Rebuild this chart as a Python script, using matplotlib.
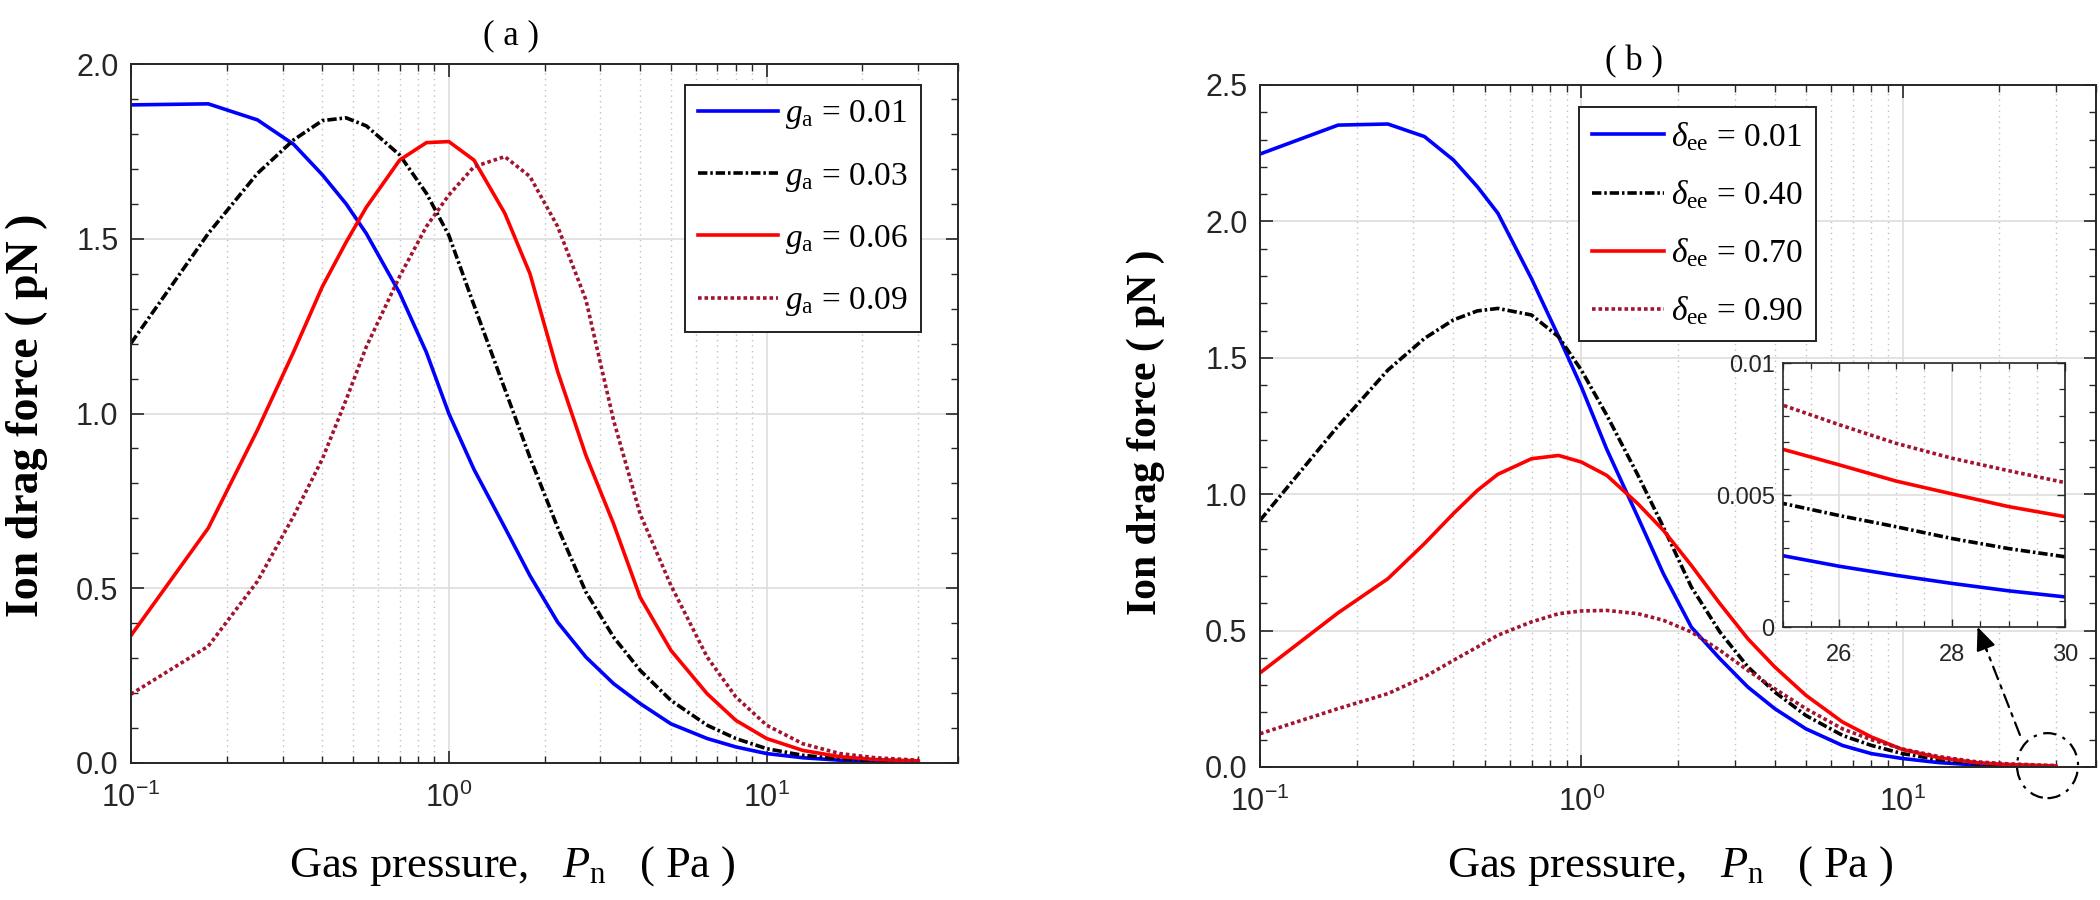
import numpy as np
import matplotlib.pyplot as plt
from matplotlib.patches import Ellipse
from matplotlib.ticker import MultipleLocator, LogLocator, NullFormatter, FormatStrFormatter

# fonts: serif text, sans ticks (MATLAB look)
plt.rcParams['mathtext.fontset'] = 'custom'
plt.rcParams['mathtext.rm'] = 'Liberation Serif'
plt.rcParams['mathtext.it'] = 'Liberation Serif:italic'
plt.rcParams['mathtext.sf'] = 'Liberation Sans'
plt.rcParams['font.family'] = ['Liberation Serif', 'DejaVu Serif']

# panel (a): ion drag force vs gas pressure for several g_a
pressure_a = [0.1, 0.175, 0.25, 0.325, 0.4, 0.475, 0.55, 0.7, 0.85, 1.0, 1.2, 1.5, 1.8,
              2.2, 2.7, 3.3, 4, 5, 6.5, 8, 10, 13, 17, 22, 30]
ga_values = ['0.01', '0.03', '0.06', '0.09']
force_ga_001 = [1.883, 1.886, 1.840, 1.770, 1.683, 1.600, 1.515, 1.345, 1.175, 1.00, 0.84,
                0.674, 0.536, 0.403, 0.303, 0.227, 0.17, 0.112, 0.07, 0.046, 0.027, 0.015,
                0.008, 0.005, 0.003]
force_ga_003 = [1.201, 1.515, 1.687, 1.783, 1.838, 1.846, 1.823, 1.74, 1.63, 1.51, 1.31,
                1.07, 0.874, 0.674, 0.489, 0.36, 0.265, 0.179, 0.108, 0.07, 0.041, 0.022,
                0.012, 0.007, 0.004]
force_ga_006 = [0.365, 0.672, 0.953, 1.177, 1.363, 1.49, 1.59, 1.725, 1.775, 1.778, 1.725,
                1.573, 1.40, 1.12, 0.88, 0.684, 0.474, 0.322, 0.198, 0.122, 0.07, 0.036,
                0.018, 0.01, 0.006]
force_ga_009 = [0.197, 0.334, 0.52, 0.707, 0.87, 1.039, 1.191, 1.392, 1.535, 1.625, 1.706,
                1.735, 1.678, 1.535, 1.325, 0.98, 0.712, 0.508, 0.303, 0.189, 0.108, 0.055,
                0.027, 0.015, 0.008]

# panel (b): ion drag force vs gas pressure for several delta_ee
pressure_b = [0.1, 0.175, 0.25, 0.325, 0.4, 0.475, 0.55, 0.7, 0.85, 1.0, 1.2, 1.5, 1.8,
              2.2, 2.7, 3.3, 4, 5, 6.5, 8, 10, 13, 17, 21, 25, 26, 27, 28, 29, 30]
dee_values = ['0.01', '0.40', '0.70', '0.90']
force_dee_001 = [2.247, 2.353, 2.357, 2.311, 2.225, 2.127, 2.03, 1.79, 1.578, 1.394, 1.165,
                 0.916, 0.709, 0.513, 0.397, 0.293, 0.214, 0.14, 0.079, 0.049, 0.031, 0.016,
                 0.0075, 0.0042, 0.0027, 0.0023, 0.00196, 0.00165, 0.00137, 0.00114]
force_dee_040 = [0.904, 1.25, 1.455, 1.571, 1.639, 1.672, 1.681, 1.657, 1.577, 1.455, 1.29,
                 1.07, 0.88, 0.66, 0.495, 0.367, 0.275, 0.189, 0.116, 0.079, 0.049, 0.027,
                 0.012, 0.0068, 0.00468, 0.00422, 0.0038, 0.00335, 0.00297, 0.00266]
force_dee_070 = [0.345, 0.565, 0.69, 0.819, 0.929, 1.014, 1.073, 1.13, 1.142, 1.118, 1.069,
                 0.965, 0.868, 0.739, 0.599, 0.47, 0.367, 0.263, 0.165, 0.11, 0.064, 0.034,
                 0.016, 0.0095, 0.00673, 0.00614, 0.00553, 0.00504, 0.00456, 0.00418]
force_dee_090 = [0.122, 0.214, 0.269, 0.33, 0.391, 0.44, 0.483, 0.532, 0.562, 0.572, 0.574,
                 0.562, 0.538, 0.495, 0.428, 0.354, 0.287, 0.214, 0.14, 0.10, 0.066, 0.038,
                 0.019, 0.012, 0.0084, 0.00766, 0.00696, 0.00639, 0.00592, 0.00547]

colors = ['#0000FF', '#000000', '#FF0000', '#A2142F']
styles = ['-', (0, (2.6, 0.8, 0.7, 0.8)), '-', (0, (1.0, 0.8))]
LW = 2.6
DARK = '#262626'


def style_axes(ax, ymax):
    # log x axis, linear y axis, MATLAB-like ticks and grid
    ax.set_xscale('log')
    ax.set_xlim(0.1, 40)
    ax.set_ylim(0, ymax)
    ax.set_xticks([0.1, 1, 10])
    ax.set_xticklabels([r'$\mathsf{10^{-1}}$', r'$\mathsf{10^{0}}$', r'$\mathsf{10^{1}}$'])
    ax.xaxis.set_minor_locator(LogLocator(base=10, subs=np.arange(2, 10)))
    ax.xaxis.set_minor_formatter(NullFormatter())
    ax.yaxis.set_major_locator(MultipleLocator(0.5))
    ax.yaxis.set_minor_locator(MultipleLocator(0.1))
    ax.yaxis.set_major_formatter(FormatStrFormatter('%.1f'))
    ax.tick_params(which='both', direction='in', top=True, right=True, colors=DARK,
                   labelsize=22, labelfontfamily='Liberation Sans')
    ax.tick_params(which='major', length=9, width=1.2)
    ax.tick_params(which='minor', length=5, width=1.0)
    ax.tick_params(axis='x', pad=14)
    ax.tick_params(axis='y', pad=9)
    ax.grid(which='major', color='#dddddd', lw=1.2, ls='-')
    ax.grid(which='minor', axis='x', color='#c0c0c0', lw=1.0, ls=(0, (1, 3)))
    ax.set_axisbelow(True)
    for s in ax.spines.values():
        s.set_color(DARK)
        s.set_linewidth(1.4)


def add_legend(ax, anchor, spacing, handle):
    leg = ax.legend(loc='upper left', bbox_to_anchor=anchor, bbox_transform=fig.transFigure,
                    fontsize=24, frameon=True, fancybox=False, edgecolor='#222222',
                    framealpha=1, handlelength=handle, handletextpad=0.2,
                    labelspacing=spacing, borderpad=0.4, borderaxespad=0)
    leg.get_frame().set_linewidth(1.4)


fig = plt.figure(figsize=(21, 9), dpi=100)

# ---------------- panel (a) ----------------
ax_a = fig.add_axes([131 / 2100, 1 - 763 / 900, 827 / 2100, 699 / 900])
series_a = [force_ga_001, force_ga_003, force_ga_006, force_ga_009]
for y, c, s, v in zip(series_a, colors, styles, ga_values):
    ax_a.plot(pressure_a, y, color=c, ls=s, lw=LW, label=r'$g_{\mathrm{a}}$ = ' + v)
style_axes(ax_a, 2.0)
add_legend(ax_a, (685 / 2100, 1 - 85 / 900), 0.88, 2.4)
fig.text(511 / 2100, 1 - 36 / 900, '( a )', ha='center', va='center', fontsize=25)
fig.text(512 / 2100, 1 - 877 / 900, r'Gas pressure,   $P_{\mathrm{n}}$   ( Pa )',
         ha='center', va='baseline', fontsize=32)
fig.text(27 / 2100, 1 - 415 / 900, 'Ion drag force ( pN )', rotation=90, ha='center',
         va='center', fontsize=33, fontweight='bold')

# ---------------- panel (b) ----------------
ax_b = fig.add_axes([1260 / 2100, 1 - 767 / 900, 836 / 2100, 682 / 900])
series_b = [force_dee_001, force_dee_040, force_dee_070, force_dee_090]
for y, c, s, v in zip(series_b, colors, styles, dee_values):
    ax_b.plot(pressure_b, y, color=c, ls=s, lw=LW, label=r'$\delta_{\mathrm{ee}}$ = ' + v)
style_axes(ax_b, 2.5)
add_legend(ax_b, (1579 / 2100, 1 - 107 / 900), 0.76, 2.15)
fig.text(1634 / 2100, 1 - 62 / 900, '( b )', ha='center', va='center', fontsize=25)
fig.text(1670 / 2100, 1 - 877 / 900, r'Gas pressure,   $P_{\mathrm{n}}$   ( Pa )',
         ha='center', va='baseline', fontsize=32)
fig.text(1146 / 2100, 1 - 432 / 900, 'Ion drag force ( pN )', rotation=90, ha='center',
         va='center', fontsize=30, fontweight='bold')

# inset: zoom on the tail 25-30 Pa
axins = fig.add_axes([1783 / 2100, 1 - 627 / 900, 282 / 2100, 264 / 900])
for y, c, s in zip(series_b, colors, styles):
    axins.plot(pressure_b, y, color=c, ls=s, lw=LW)
axins.set_xlim(25, 30)
axins.set_ylim(0, 0.01)
axins.set_xticks([26, 28, 30])
axins.xaxis.set_minor_locator(MultipleLocator(0.5))
axins.set_yticks([0, 0.005, 0.01])
axins.set_yticklabels(['0', '0.005', '0.01'])
axins.yaxis.set_minor_locator(MultipleLocator(0.001))
axins.tick_params(which='both', direction='in', top=True, right=True, colors=DARK,
                  labelsize=17, labelfontfamily='Liberation Sans')
axins.tick_params(which='major', length=6, width=1.0)
axins.tick_params(which='minor', length=4, width=0.9)
axins.tick_params(axis='x', pad=12)
axins.tick_params(axis='y', pad=6)
axins.grid(which='major', color='#dddddd', lw=1.1)
axins.grid(which='minor', axis='x', color='#c0c0c0', lw=1.0, ls=(0, (1, 3)))
axins.set_axisbelow(True)
for s in axins.spines.values():
    s.set_color(DARK)
    s.set_linewidth(1.2)

# dash-dot circle around the tail and arrow to the inset
dashdot = (0, (6, 3, 1.5, 3))
ax_b.add_patch(Ellipse((0.942, 0.002), 0.073, 0.0953, transform=ax_b.transAxes,
                       fill=False, ls=dashdot, lw=1.6, color='black', clip_on=False))
ax_b.annotate('', xy=(28.45, 0), xycoords=axins.transData, xytext=(0.909, 0.047),
              textcoords=ax_b.transAxes,
              arrowprops=dict(arrowstyle='-', ls=dashdot, lw=1.6, color='black',
                              shrinkA=0, shrinkB=0))
ax_b.annotate('', xy=(28.45, 0), xycoords=axins.transData, xytext=(0.8696, 0.17),
              textcoords=ax_b.transAxes,
              arrowprops=dict(arrowstyle='-|>,head_length=0.7,head_width=0.3', lw=1.6,
                              color='black', mutation_scale=20, shrinkA=0, shrinkB=0))

plt.savefig('out.png', dpi=100)
